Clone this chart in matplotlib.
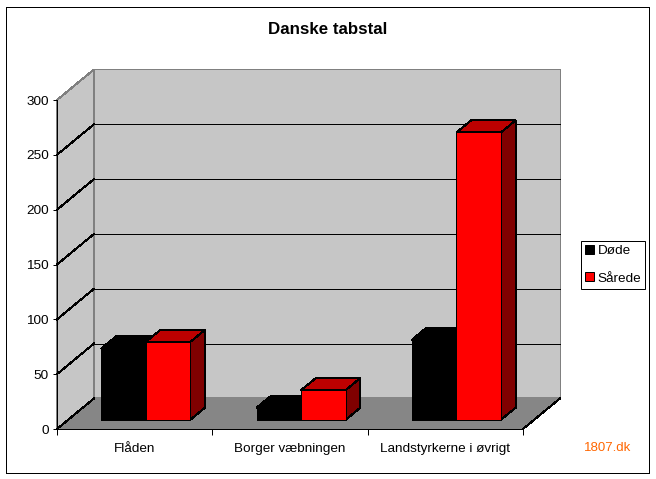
import matplotlib
matplotlib.use("Agg")
import matplotlib.pyplot as plt
from matplotlib.patches import Polygon, Rectangle

plt.rcParams["font.family"] = ["Liberation Sans", "DejaVu Sans"]

CATEGORIES = ["Flåden", "Borger væbningen", "Landstyrkerne i øvrigt"]
DODE = [65, 11, 73]
SAREDE = [71, 27, 262]
Y_TICKS = [0, 50, 100, 150, 200, 250, 300]

W, H = 656, 479
BAR_WIDTH = 0.2865
# depth of the 3D box, in data units
DX = 37 * 3 / 466
DY = 30.6 * 300 / 329
NEAR, FAR = 0.3, 0.7

WALL = "#C6C6C6"
FLOOR = "#868686"
EDGE = "#808080"
LW = 0.72
FS = 9.7


def depth(x, y, d):
    return x + d * DX, y + d * DY


def poly(ax, pts, face, edge, zorder=1):
    ax.add_patch(Polygon(pts, closed=True, facecolor=face, edgecolor=edge, lw=LW,
                         clip_on=False, antialiased=False, zorder=zorder))


def line(ax, p, q, color="black", zorder=2):
    ax.plot([p[0], q[0]], [p[1], q[1]], color=color, lw=LW, clip_on=False,
            antialiased=False, zorder=zorder)


def bar3d(ax, left, value, color, top, side, label, zorder):
    right = left + BAR_WIDTH
    nl, ny = depth(left, 0, NEAR)
    nr, _ = depth(right, 0, NEAR)
    nt = depth(left, value, NEAR)[1]
    fx = (FAR - NEAR) * DX
    fy = (FAR - NEAR) * DY
    poly(ax, [(nl, nt), (nl + fx, nt + fy), (nr + fx, nt + fy), (nr, nt)], top, "black", zorder)
    poly(ax, [(nr, ny), (nr + fx, ny + fy), (nr + fx, nt + fy), (nr, nt)], side, "black", zorder)
    return ax.bar(nl, value, BAR_WIDTH, bottom=ny, align="edge", color=color, edgecolor="black",
                  lw=LW, clip_on=False, antialiased=False, zorder=zorder, label=label)


fig = plt.figure(figsize=(W / 100, H / 100), dpi=100, facecolor="white")
ax = fig.add_axes([57 / W, (H - 429) / H, 466 / W, 329 / H])
ax.set_xlim(0, 3)
ax.set_ylim(0, 300)
ax.patch.set_visible(False)

# outer chart border
fig.add_artist(Rectangle((5.5 / W, (H - 472.5) / H), 643 / W, 466 / H, transform=fig.transFigure,
                         facecolor="none", edgecolor="black", lw=LW, antialiased=False))

# walls and floor
poly(ax, [depth(0, 0, 1), depth(3, 0, 1), depth(3, 300, 1), depth(0, 300, 1)], WALL, EDGE)
poly(ax, [(0, 0), (0, 300), depth(0, 300, 1), depth(0, 0, 1)], WALL, EDGE)
poly(ax, [(0, 0), (3, 0), depth(3, 0, 1), depth(0, 0, 1)], FLOOR, FLOOR)
line(ax, (3, 0), depth(3, 0, 1))
line(ax, (0, 0), depth(0, 0, 1))

for v in Y_TICKS[1:-1]:
    line(ax, (0, v), depth(0, v, 1))
    line(ax, depth(0, v, 1), depth(3, v, 1))

# bars, back to front in series order
handles = []
for i in range(len(CATEGORIES)):
    left = i + 0.5 - BAR_WIDTH
    h1 = bar3d(ax, left, DODE[i], "black", "black", "black", "Døde", 3)
    h2 = bar3d(ax, left + BAR_WIDTH, SAREDE[i], "#FF0000", "#BD0000", "#800000", "Sårede", 4)
    handles = [h1, h2]

# axes
for s in ("top", "right"):
    ax.spines[s].set_visible(False)
for s in ("left", "bottom"):
    ax.spines[s].set_linewidth(LW)
    ax.spines[s].set_zorder(5)
    ax.spines[s].set_antialiased(False)
ax.set_yticks(Y_TICKS)
ax.set_xticks([0, 1, 2, 3])
ax.set_xticklabels([])
ax.set_xticks([0.5, 1.5, 2.5], minor=True)
ax.set_xticklabels(CATEGORIES, minor=True, fontsize=FS)
ax.tick_params(axis="x", which="minor", length=0, pad=10)
ax.tick_params(axis="x", which="major", length=4, width=LW)
ax.tick_params(axis="y", length=3, width=LW, labelsize=FS, pad=3)

fig.text(328 / W, (H - 30) / H, "Danske tabstal", ha="center", va="center",
         fontsize=12.2, fontweight="bold")
fig.text(608 / W, (H - 448) / H, "1807.dk", ha="center", va="center", fontsize=9.5, color="#FF6600")

leg = fig.legend(handles=handles, loc="upper left", bbox_to_anchor=(581 / W, (H - 241) / H),
                 bbox_transform=fig.transFigure, fontsize=FS, frameon=True, fancybox=False,
                 borderaxespad=0, borderpad=0.3, handlelength=0.68, handleheight=0.68,
                 handletextpad=0.25, labelspacing=1.1)
leg.get_frame().set_edgecolor("black")
leg.get_frame().set_linewidth(LW)
leg.get_frame().set_alpha(1)

fig.savefig("out.png", dpi=100)
